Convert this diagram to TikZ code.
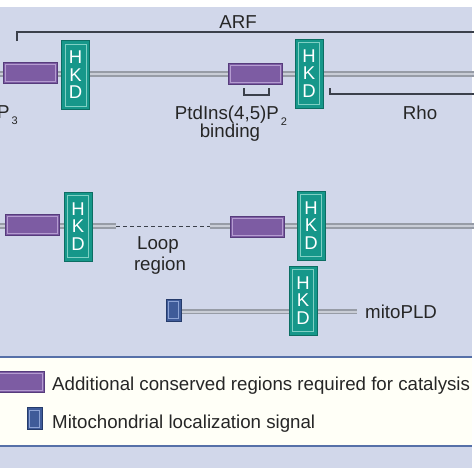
\documentclass[tikz,border=0pt]{standalone}
\usepackage{fontspec}
\setmainfont{Liberation Sans}
\usetikzlibrary{calc}
\definecolor{bgblue}{HTML}{D1D7EA}
\definecolor{rule}{HTML}{5670A8}
\definecolor{hkdfill}{HTML}{16978A}
\definecolor{hkddark}{HTML}{0C6E63}
\definecolor{hkdlight}{HTML}{7FD0C4}
\definecolor{purfill}{HTML}{7D5CA3}
\definecolor{purdark}{HTML}{563C7C}
\definecolor{purlight}{HTML}{B49CD0}
\definecolor{mitofill}{HTML}{3F5B99}
\definecolor{mitodark}{HTML}{253B6B}
\definecolor{mitolight}{HTML}{8CA2D4}
\definecolor{brk}{HTML}{3B404B}
\definecolor{bbdark}{HTML}{979CA6}
\definecolor{bblight}{HTML}{C9CDD6}
\tikzset{
  lbl/.style={font=\fontsize{18.7}{22}\selectfont,text=black!85,inner sep=0pt},
  backbone/.style={draw=bbdark,double=bblight,line width=1.8pt,double distance=2pt},
  loopline/.style={draw=brk,line width=.9pt,dash pattern=on 4pt off 3pt},
  bracket/.style={draw=brk,line width=1.2pt},
  hkd/.style={draw=hkddark,fill=hkdfill,line width=1pt,minimum width=28pt,minimum height=69pt,
    inner sep=0pt,text=white,align=center,font=\fontsize{18.5}{17.5}\selectfont,
    path picture={\draw[hkdlight,line width=.8pt]([shift={(3.5pt,-3.5pt)}]path picture bounding box.north west)
      rectangle ([shift={(-3.5pt,3.5pt)}]path picture bounding box.south east);}},
  purbox/.style={draw=purdark,fill=purfill,line width=1pt,minimum width=54pt,minimum height=21pt,inner sep=0pt,
    path picture={\draw[purlight,line width=.7pt]([shift={(2pt,-2pt)}]path picture bounding box.north west)
      rectangle ([shift={(-2pt,2pt)}]path picture bounding box.south east);}},
  mitobox/.style={draw=mitodark,fill=mitofill,line width=1pt,minimum width=15pt,minimum height=22pt,inner sep=0pt,
    path picture={\draw[mitolight,line width=.7pt]([shift={(2.5pt,-2.5pt)}]path picture bounding box.north west)
      rectangle ([shift={(-2.5pt,2.5pt)}]path picture bounding box.south east);}}
}

\begin{document}
\begin{tikzpicture}[x=1pt,y=-1pt]
    \useasboundingbox (0,0) rectangle (474,474);
    \fill[bgblue] (0,7) rectangle (472,468);
    \fill[white!97!yellow] (0,357) rectangle (472,446);
    \draw[rule,line width=2pt] (0,357)--(472,357) (0,446)--(472,446);
    % row 1: ARF
    \coordinate (r1w) at (-5,74); \coordinate (r1e) at (480,74);
    \draw[backbone] (r1w)--(r1e);
    \node[purbox] (pur1) at (30,72.5) {};
    \node[hkd] (hkd1) at (75.5,75) {H\\K\\D};
    \node[purbox] (pur2) at (255,74) {};
    \node[hkd] (hkd2) at (309,73.5) {H\\K\\D};
    \coordinate (arfw) at (17,41); \coordinate (arfe) at (480,32);
    \draw[bracket] (arfw)|-(arfe);
    \node[lbl,anchor=base] (arf) at (238,28) {ARF};
    \node[lbl,anchor=base west] (pip3) at (-3,118) {P\kern2pt\raisebox{-6pt}{\fontsize{11}{11}\selectfont 3}};
    \coordinate (bdw) at (244,88); \coordinate (bde) at (269,88);
    \draw[bracket] (bdw)--++(0,7)-|(bde);
    \node[lbl,anchor=base] (pip2) at (231,119) {PtdIns(4,5)P\kern2pt\raisebox{-6pt}{\fontsize{11}{11}\selectfont 2}};
    \node[lbl,anchor=base] (bind) at (230,137) {binding};
    \coordinate (rhow) at (330,88); \coordinate (rhoe) at (480,94);
    \draw[bracket] (rhow)|-(rhoe);
    \node[lbl,anchor=base] (rho) at (420,119) {Rho};
    % row 2: loop region
    \coordinate (r2w) at (-5,226); \coordinate (lpw) at (116,226);
    \coordinate (lpe) at (210,226); \coordinate (r2e) at (480,226);
    \draw[backbone] (r2w)--(lpw) (lpe)--(r2e);
    \draw[loopline] (lpw)--(lpe);
    \node[purbox] (pur3) at (32,225) {};
    \node[hkd] (hkd3) at (78,226.5) {H\\K\\D};
    \node[purbox] (pur4) at (257,226.5) {};
    \node[hkd] (hkd4) at (311,225.5) {H\\K\\D};
    \node[lbl,anchor=base] (loop) at (158,249) {Loop};
    \node[lbl,anchor=base] (regn) at (160,270) {region};
    % row 3: mitoPLD
    \node[mitobox] (mito) at (173.5,310) {};
    \coordinate (r3e) at (357,311.5);
    \draw[backbone] (mito.east|-r3e)--(r3e);
    \node[hkd] (hkd5) at (303,300.5) {H\\K\\D};
    \node[lbl,anchor=base west] (mpld) at (365,318) {mitoPLD};
    % legend
    \node[purbox] (legpur) at (17,381.5) {};
    \node[lbl,anchor=base west] (legt1) at (52,390) {Additional conserved regions required for catalysis};
    \node[mitobox] (legmito) at (34.5,418.5) {};
    \node[lbl,anchor=base west] (legt2) at (52,428) {Mitochondrial localization signal};
\end{tikzpicture}
\end{document}
